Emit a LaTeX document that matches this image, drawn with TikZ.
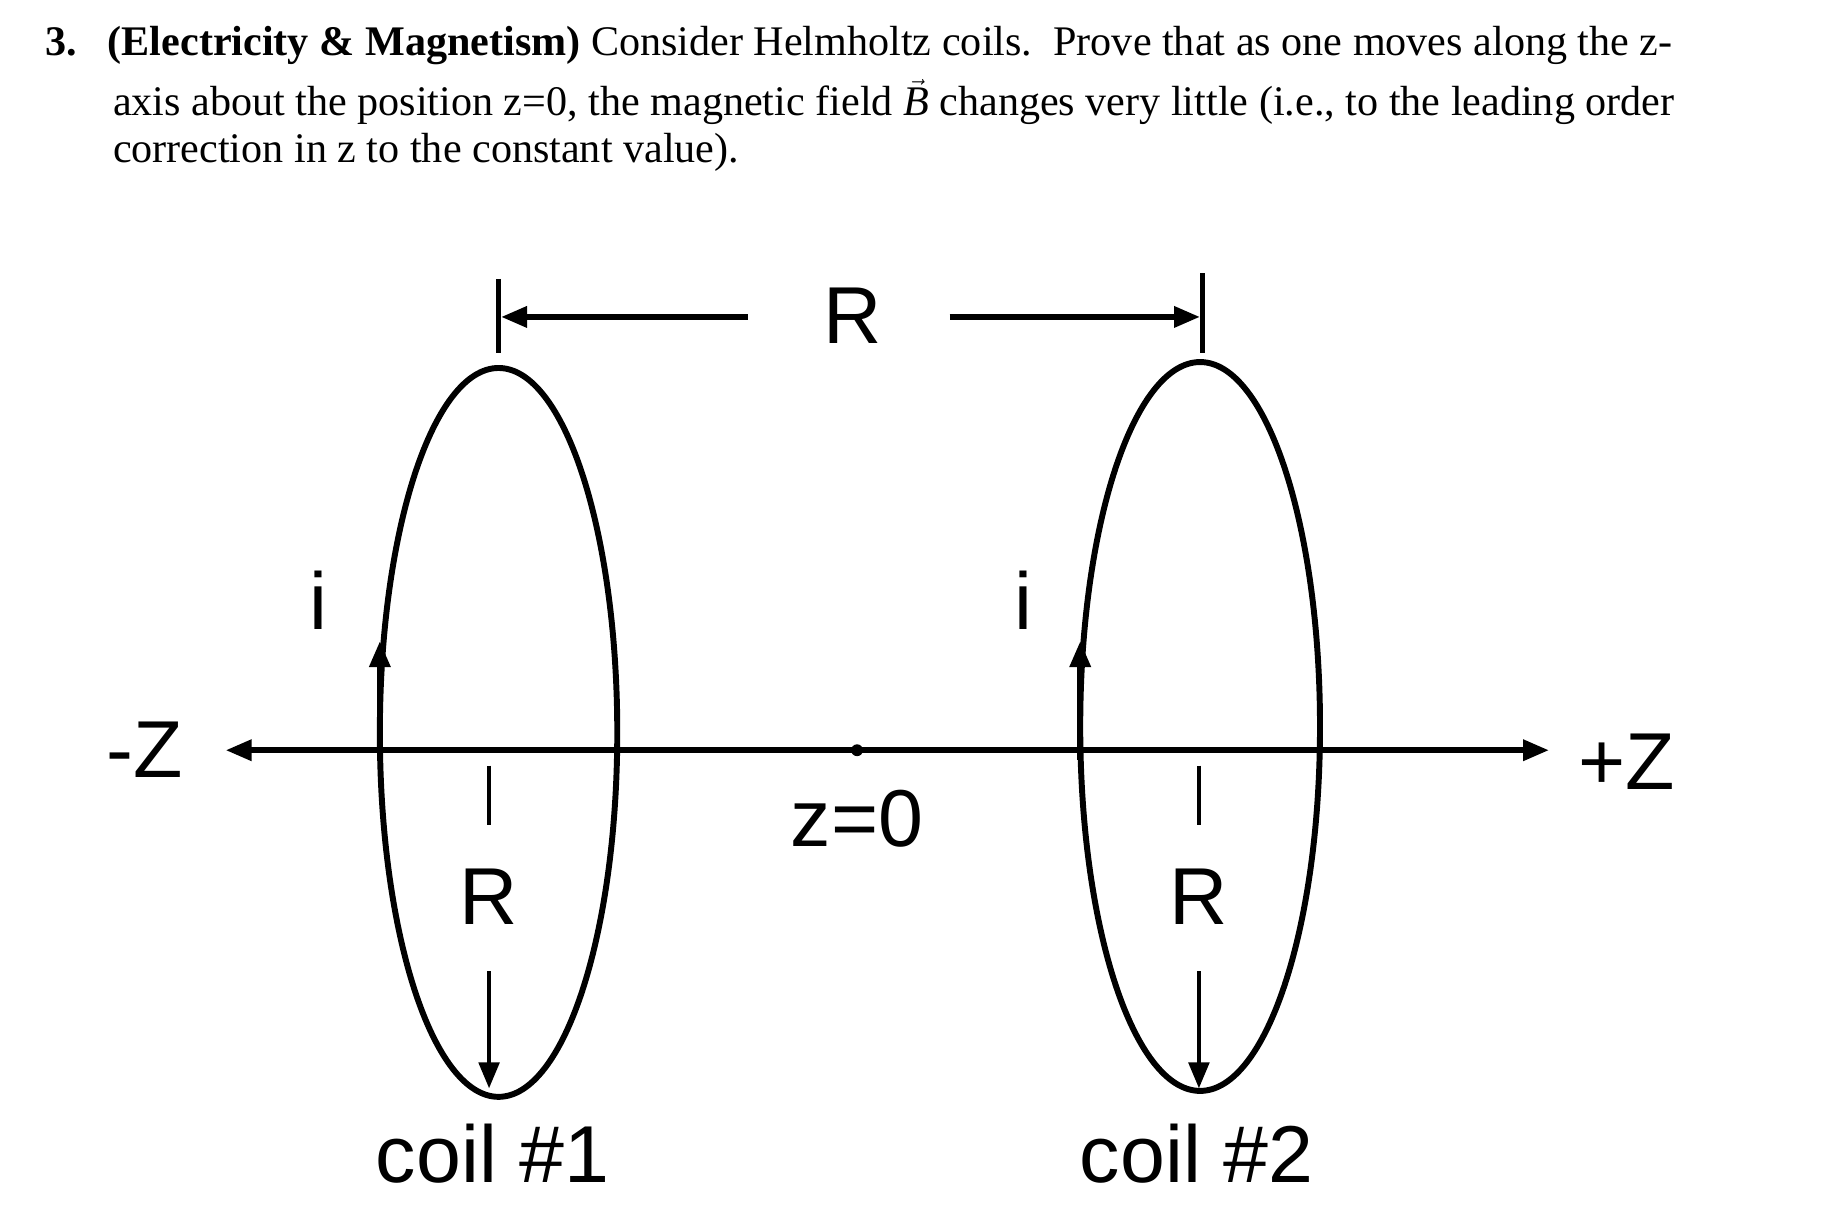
\documentclass[tikz,border=0pt]{standalone}
\usepackage{fontspec}
\setmainfont{Liberation Serif}
\newfontfamily\arial{Liberation Sans}
\usetikzlibrary{arrows.meta}
\begin{document}
\begin{tikzpicture}[x=1pt,y=-1pt,
  lab/.style={font=\arial\fontsize{68}{74}\selectfont,inner sep=0pt},
  ln/.style={line width=5pt},
  tk/.style={line width=4pt},
  arr/.style={ln,-{Triangle[length=22pt,width=17pt]}},
  ttl/.style={font=\fontsize{35.5}{40}\selectfont,anchor=west,inner sep=0pt}]
\useasboundingbox[fill=white] (0,0) rectangle (1545,1016);
\node[ttl] (t1) at (38,38) {\textbf{3.}\hspace{26pt}\textbf{(Electricity \& Magnetism)} Consider Helmholtz coils.\ \ Prove that as one moves along the z-};
\node[ttl] (t2) at (95,86) {axis about the position z=0, the magnetic field \ensuremath{\vec{\textit{B}}} changes very little (i.e., to the leading order};
\node[ttl] (t3) at (95,128) {correction in z to the constant value).};
% axis
\coordinate (al) at (190,632); \coordinate (ar) at (1305,632);
\coordinate (o) at (722,632);
\draw[ln,{Triangle[length=22pt,width=17pt]}-{Triangle[length=22pt,width=17pt]}] (al) -- (ar);
\fill (o) circle (5pt);
\node[lab] (mz) at (122,632) {-Z};
\node[lab] (pz) at (1370,642) {+Z};
\node[lab] (z0) at (722,690) {z=0};
% coils
\draw[ln] (420,617) ellipse (100 and 307);
\draw[ln] (1011,612) ellipse (101 and 307);
\coordinate (a1s) at (320,640); \coordinate (a1e) at (320,540);
\draw[arr] (a1s) -- (a1e);
\coordinate (a2s) at (910,640); \coordinate (a2e) at (910,540);
\draw[arr] (a2s) -- (a2e);
\node[lab] (i1) at (268,506) {i};
\node[lab] (i2) at (862,506) {i};
% top dimension
\coordinate (b1t) at (420,235); \coordinate (b1b) at (420,297);
\coordinate (b2t) at (1013,230); \coordinate (b2b) at (1013,297);
\draw[tk] (b1t) -- (b1b);
\draw[tk] (b2t) -- (b2b);
\node[lab] (rt) at (718,266) {R};
\coordinate (l1) at (630,267); \coordinate (l2) at (422,267);
\coordinate (r1) at (800,267); \coordinate (r2) at (1011,267);
\draw[arr] (l1) -- (l2);
\draw[arr] (r1) -- (r2);
% inner R
\foreach \n/\x in {1/412,2/1010}{
  \coordinate (ta\n) at (\x,645); \coordinate (tb\n) at (\x,695);
  \draw[tk] (ta\n) -- (tb\n);
  \node[lab] (rr\n) at (\x,755) {R};
  \coordinate (da\n) at (\x,818); \coordinate (db\n) at (\x,917);
  \draw[tk,-{Triangle[length=22pt,width=17pt]}] (da\n) -- (db\n);
}
\node[lab] (c1) at (415,972) {coil \#1};
\node[lab] (c2) at (1008,972) {coil \#2};
\end{tikzpicture}
\end{document}
